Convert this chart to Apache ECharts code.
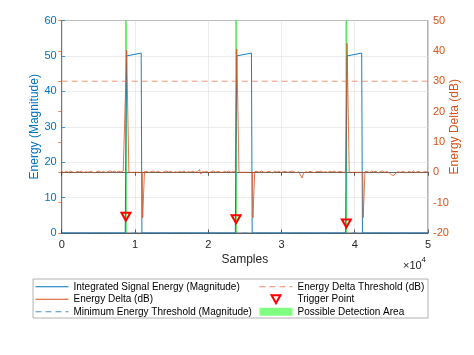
<!DOCTYPE html>
<html><head><meta charset="utf-8">
<script src="https://cdn.jsdelivr.net/npm/echarts@6/dist/echarts.min.js"></script>
<style>html,body{margin:0;padding:0;background:#fff}#c{width:474px;height:355px}</style>
</head><body><div id="c"></div>
<script>
// ---- data ----
const energySamples   = [0, 8670, 8870, 10850, 10950, 23700, 23900, 25900, 26000, 38750, 38950, 40950, 41050, 50000];
const energyMagnitude = [0, 0,    50,   50.8,  0,     0,     50,    50.8,  0,     0,     50,    50.8,  0,     0];

const energyDelta = [
  [0,0.2],[300,-0.1],[600,0.3],[900,0.0],[1200,0.4],[1500,0.1],[1800,-0.2],[2100,0.3],[2400,0.1],[2700,0.4],
  [3000,-0.1],[3300,0.2],[3600,0.0],[3900,0.3],[4200,0.1],[4500,-0.2],[4800,0.2],[5100,0.4],[5400,0.0],[5700,0.3],
  [6000,-0.1],[6300,0.2],[6600,0.5],[6900,0.1],[7200,0.4],[7500,0.0],[7800,0.3],[8100,0.1],[8400,0.4],[8670,0.1],
  [8870,40.2],[9170,0.0],[11000,0.0],[11050,-15],[11250,-15],[11300,0.2],
  [11600,0.3],[11900,-0.1],[12200,0.2],[12500,0.4],[12800,0.0],[13100,0.3],[13400,0.1],[13700,-0.2],[14000,0.2],
  [14300,0.4],[14600,0.1],[14900,0.3],[15200,-0.1],[15500,0.2],[15800,0.0],[16100,0.3],[16400,0.1],[16700,0.4],
  [17000,-0.1],[17300,0.2],[17600,0.1],[17900,0.3],[18200,0.0],[18500,0.2],[18800,0.9],[19000,-0.6],[19200,0.2],
  [19500,0.1],[19800,0.3],[20100,-0.1],[20400,0.2],[20700,0.4],[21000,0.0],[21300,0.3],[21600,0.1],[21900,-0.1],
  [22200,0.3],[22500,0.1],[22800,0.4],[23100,0.0],[23400,0.2],[23700,0.1],
  [23900,40.6],[24200,0.0],[26050,0.0],[26100,-15],[26300,-15],[26350,0.2],
  [26650,0.3],[26950,0.0],[27250,0.4],[27550,0.1],[27850,-0.1],[28150,0.3],[28450,0.2],[28750,-0.2],[29050,0.3],
  [29350,0.1],[29650,0.4],[29950,-0.1],[30250,0.2],[30550,0.3],[30850,0.0],[31150,0.2],[31450,0.4],[31750,0.1],
  [32050,-0.1],[32350,0.2],[32600,-0.3],[32800,-1.9],[33000,-0.4],[33300,0.2],[33600,0.0],[33900,0.3],[34200,0.1],
  [34500,-0.1],[34800,0.3],[35100,0.2],[35400,0.4],[35700,0.0],[36000,0.2],[36300,-0.1],[36600,0.3],[36900,0.1],
  [37200,0.4],[37500,0.0],[37800,0.2],[38100,0.3],[38400,0.0],[38750,0.1],
  [38950,42.5],[39250,0.0],[41100,0.0],[41150,-15],[41350,-15],[41400,0.2],
  [41700,0.3],[42000,-0.1],[42300,0.4],[42600,0.1],[42900,0.3],[43200,-0.2],[43500,0.2],[43800,0.4],[44100,0.0],
  [44400,0.3],[44700,-0.2],[45000,-0.8],[45300,-1.1],[45600,-0.3],[45900,0.2],[46200,-0.1],[46500,0.3],[46800,0.1],
  [47100,-0.2],[47400,0.3],[47700,0.0],[48000,0.4],[48300,-0.1],[48600,0.3],[48900,0.1],[49200,-0.2],[49500,0.3],
  [49800,0.1],[50000,0.2]
];

const triggerSamples   = [8770, 23800, 38850];
const triggerMagnitude = [4.6, 3.9, 2.7];

const detectionStart = [8650, 23680, 38730];
const detectionEnd   = [8890, 23920, 38970];

const minEnergyThreshold = 0;
const deltaThresholdDb   = 30;

const xRange = [0, 50000];
const xTickStep = 10000;
const leftRange = [0, 60];
const rightRange = [-20, 50];
const yTickStep = 10;

// ---- chart ----
const FONT = 'Liberation Sans, Arial, Helvetica, sans-serif';
const BLUE = '#0072BD', ORANGE = '#D95319', DARK = '#262626', GRID = '#e4e4e4';

const chart = echarts.init(document.getElementById('c'), null, {renderer: 'canvas'});

const xBase = {
  type: 'value', min: xRange[0], max: xRange[1], interval: xTickStep,
  axisLine: {show: true, lineStyle: {color: DARK, width: 0.7}},
  axisTick: {show: true, inside: true, length: 3.5, lineStyle: {color: DARK, width: 0.7}}
};

const hideSym = {opacity: 0};
const legendCommon = {
  orient: 'vertical', top: 280.5, padding: 0, itemGap: 0, itemWidth: 33, itemHeight: 8,
  selectedMode: false, lineStyle: {width: 1},
  textStyle: {fontSize: 10, lineHeight: 12.5, color: '#000', fontFamily: FONT}
};

const option = {
  animation: false,
  textStyle: {fontFamily: FONT},
  grid: {left: 61.7, right: 46, top: 20.5, bottom: 122, show: true, borderColor: DARK, borderWidth: 0.7, backgroundColor: 'transparent'},
  xAxis: [
    Object.assign({}, xBase, {
      position: 'bottom',
      axisLabel: {color: DARK, fontSize: 11, margin: 6, fontFamily: FONT, formatter: v => String(v / 10000)},
      splitLine: {show: true, lineStyle: {color: GRID, width: 0.7}},
      name: 'Samples', nameLocation: 'middle', nameGap: 21, nameMoveOverlap: false,
      nameTextStyle: {color: DARK, fontSize: 12, fontFamily: FONT}
    }),
    Object.assign({}, xBase, {
      position: 'top', axisLabel: {show: false}, splitLine: {show: false}
    })
  ],
  yAxis: [
    {
      type: 'value', min: leftRange[0], max: leftRange[1], interval: yTickStep, position: 'left',
      axisLine: {show: true, lineStyle: {color: BLUE, width: 0.7}},
      axisTick: {show: true, inside: true, length: 3.5, lineStyle: {color: BLUE, width: 0.7}},
      axisLabel: {color: BLUE, fontSize: 11, margin: 5, fontFamily: FONT},
      splitLine: {show: true, lineStyle: {color: GRID, width: 0.7}},
      name: 'Energy (Magnitude)', nameLocation: 'middle', nameGap: 21, nameRotate: 90, nameMoveOverlap: false,
      nameTextStyle: {color: BLUE, fontSize: 12, fontFamily: FONT}
    },
    {
      type: 'value', min: rightRange[0], max: rightRange[1], interval: yTickStep, position: 'right',
      axisLine: {show: true, lineStyle: {color: ORANGE, width: 0.7}},
      axisTick: {show: true, inside: true, length: 3.5, lineStyle: {color: ORANGE, width: 0.7}},
      axisLabel: {color: ORANGE, fontSize: 11, margin: 5, fontFamily: FONT},
      splitLine: {show: false},
      name: 'Energy Delta (dB)', nameLocation: 'middle', nameGap: 21, nameRotate: 90, nameMoveOverlap: false,
      nameTextStyle: {color: ORANGE, fontSize: 12, fontFamily: FONT}
    }
  ],
  legend: [
    Object.assign({}, legendCommon, {
      left: 35,
      data: [
        {name: 'Integrated Signal Energy (Magnitude)', itemStyle: hideSym},
        {name: 'Energy Delta (dB)', itemStyle: hideSym},
        {name: 'Minimum Energy Threshold (Magnitude)', itemStyle: hideSym}
      ]
    }),
    Object.assign({}, legendCommon, {
      left: 259,
      data: [
        {name: 'Energy Delta Threshold (dB)', itemStyle: hideSym},
        {name: 'Trigger Point', icon: 'path://M0,0L10,0L5,9Z',
         itemStyle: {color: 'rgba(255,255,255,1)', borderColor: '#ff0000', borderWidth: 2}},
        {name: 'Possible Detection Area', icon: 'rect', itemStyle: {color: '#80ff80', borderWidth: 0}}
      ]
    })
  ],
  graphic: [
    {type: 'rect', z: -1, shape: {x: 33, y: 279, width: 395, height: 39},
     style: {fill: '#fff', stroke: '#a0a0a0', lineWidth: 0.8}},
    {type: 'text', left: 403, top: 260, style: {text: '×10', fontSize: 11, fill: DARK, font: '11px ' + FONT}},
    {type: 'text', left: 421.5, top: 256, style: {text: '4', fontSize: 8, fill: DARK, font: '8px ' + FONT}}
  ],
  series: [
    {
      name: 'Integrated Signal Energy (Magnitude)', type: 'line', xAxisIndex: 0, yAxisIndex: 0,
      data: energySamples.map((x, i) => [x, energyMagnitude[i]]),
      symbol: 'none', lineStyle: {color: BLUE, width: 0.9}, itemStyle: {color: BLUE}, z: 2
    },
    {
      name: 'Energy Delta (dB)', type: 'line', xAxisIndex: 0, yAxisIndex: 1,
      data: energyDelta, symbol: 'none',
      lineStyle: {color: ORANGE, width: 0.8}, itemStyle: {color: ORANGE}, z: 3
    },
    {
      name: 'Minimum Energy Threshold (Magnitude)', type: 'line', xAxisIndex: 0, yAxisIndex: 0,
      data: xRange.map(x => [x, minEnergyThreshold]), symbol: 'none',
      lineStyle: {color: '#4f8fc4', width: 0.9, type: [6, 4]}, itemStyle: {color: '#4f8fc4'}, z: 2
    },
    {
      name: 'Energy Delta Threshold (dB)', type: 'line', xAxisIndex: 0, yAxisIndex: 1,
      data: xRange.map(x => [x, deltaThresholdDb]), symbol: 'none',
      lineStyle: {color: '#e68a6a', width: 0.9, type: [6, 4]}, itemStyle: {color: '#e68a6a'}, z: 2
    },
    {
      name: 'Possible Detection Area', type: 'line', xAxisIndex: 0, yAxisIndex: 0,
      data: [], symbol: 'none', itemStyle: {color: '#80ff80'}, lineStyle: {color: '#80ff80'}, z: 4,
      markArea: {
        silent: true,
        itemStyle: {color: 'rgba(40,230,40,0.75)', borderWidth: 0},
        data: detectionStart.map((s, i) => [{xAxis: s}, {xAxis: detectionEnd[i]}])
      }
    },
    {
      name: 'Trigger Point', type: 'scatter', xAxisIndex: 0, yAxisIndex: 0,
      data: triggerSamples.map((x, i) => [x, triggerMagnitude[i]]),
      symbol: 'triangle', symbolRotate: 180, symbolSize: [9, 8],
      itemStyle: {color: 'rgba(255,255,255,0)', borderColor: '#ff0000', borderWidth: 2, opacity: 1}, z: 6
    }
  ]
};
chart.setOption(option);
</script></body></html>
